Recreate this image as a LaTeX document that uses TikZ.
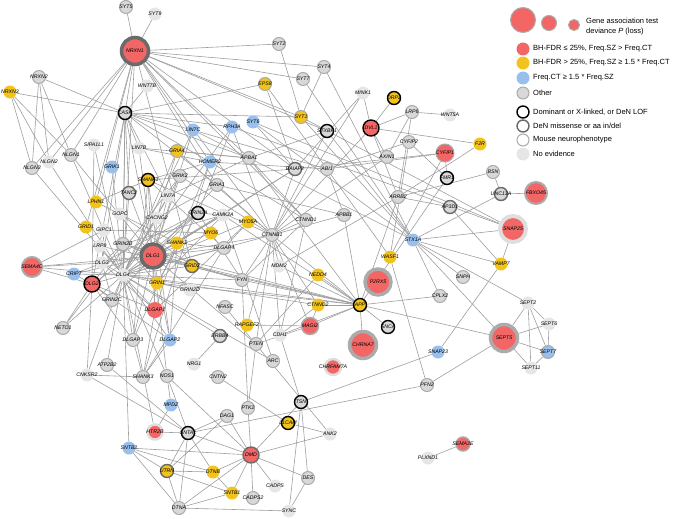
\documentclass[tikz,border=0pt]{standalone}
\usepackage{fontspec}
\setmainfont{Liberation Sans}
\setsansfont{Liberation Sans}
\usetikzlibrary{backgrounds}
\definecolor{szred}{HTML}{F26666}
\definecolor{szyel}{HTML}{F2C31C}
\definecolor{ctblu}{HTML}{99C0EC}
\definecolor{othgry}{HTML}{D8D8D8}
\definecolor{nevgry}{HTML}{E6E6E6}
\definecolor{ringdk}{HTML}{6A6A6A}
\definecolor{ringms}{HTML}{ABABAB}
\definecolor{ringpl}{HTML}{DEDEDE}
\definecolor{ppigry}{HTML}{9E9E9E}
\tikzset{%
  gene/.style  = {circle, inner sep=0pt, minimum size=13pt},
  gred/.style  = {gene, fill=szred},
  gyel/.style  = {gene, fill=szyel},
  gblu/.style  = {gene, fill=ctblu},
  ggry/.style  = {gene, fill=othgry},
  glt/.style   = {gene, fill=nevgry},
  rdom/.style  = {draw=black, line width=1.4pt},
  rden/.style  = {draw=ringdk, line width=1.4pt},
  rthk/.style  = {draw=ringdk, line width=3.5pt},
  rmus/.style  = {draw=ringms, line width=1pt},
  rbig/.style  = {draw=ringms, line width=3.5pt},
  rpale/.style = {draw=ringpl, line width=2.5pt},
  lab/.style   = {font=\sffamily\itshape\fontsize{5.2}{5.2}\selectfont, inner sep=0pt},
  gn/.style    = {label={[lab]center:#1}},
  ppi/.style   = {draw=ppigry, line width=0.6pt},
  legtxt/.style = {anchor=west, inner sep=0pt, font=\sffamily\fontsize{7.5}{10}\selectfont},
}
\begin{document}
\begin{tikzpicture}[x=1pt, y=-1pt]
  \useasboundingbox (0,0) rectangle (685,519);

  % genes, top
  \node[ggry, rmus, gn=SYT5]   (SYT5)   at (126,7)   {};
  \node[glt, gn=SYT9]          (SYT9)   at (155,14)  {};
  \node[gred, rthk, minimum size=27pt, gn=NRXN1] (NRXN1) at (135,51) {};
  \node[ggry, rmus, gn=SYT2]   (SYT2)   at (279,44)  {};
  \node[ggry, rmus, gn=SYT4]   (SYT4)   at (324,67)  {};
  \node[ggry, rmus, gn=SYT7]   (SYT7)   at (303,79)  {};
  \node[gyel, rmus, gn=EPS8]   (EPS8)   at (265,84)  {};
  \node[glt, gn=WNT7B]         (WNT7B)  at (147,86)  {};
  \node[ggry, rmus, gn=NRXN2]  (NRXN2)  at (39,77)   {};
  \node[gyel, gn=NRXN3]        (NRXN3)  at (10,92)   {};
  \node[ggry, rdom, gn=CASK]   (CASK)   at (125,113) {};
  \node[glt, gn=MINK1]         (MINK1)  at (363,93)  {};
  \node[gyel, rdom, gn=DRP2]   (DRP2)   at (394,98)  {};
  \node[ggry, rmus, gn=LRP6]   (LRP6)   at (412,112) {};
  \node[glt, gn=WNT5A]         (WNT5A)  at (450,115) {};
  \node[gyel, rmus, gn=SYT1]   (SYT1)   at (301,117) {};
  \node[gblu, gn=SYT6]         (SYT6)   at (253,122) {};
  \node[gblu, gn=RPH3A]        (RPH3A)  at (232,127) {};
  \node[gblu, gn=LIN7C]        (LIN7C)  at (193,130) {};
  \node[ggry, rdom, gn=STXBP1] (STXBP1) at (327,131) {};
  \node[gred, rdom, minimum size=16pt, gn=DVL1] (DVL1) at (371,128) {};
  \node[ggry, rmus, gn=CYFIP2] (CYFIP2) at (409,142) {};
  \node[gred, rmus, minimum size=18pt, gn=CYFIP1] (CYFIP1) at (445,153) {};
  \node[gyel, gn=F2R]          (F2R)    at (480,144) {};
  \node[ggry, rmus, gn=BSN]    (BSN)    at (493,172) {};

  % genes, upper left and middle
  \node[glt, gn=SIPA1L1]       (SIPA1L1) at (94,145) {};
  \node[glt, gn=LIN7B]         (LIN7B)  at (139,148) {};
  \node[gyel, rmus, gn=GRIA4]  (GRIA4)  at (177,151) {};
  \node[ggry, rmus, gn=NLGN1]  (NLGN1)  at (71,155)  {};
  \node[glt, gn=NLGN2]         (NLGN2)  at (49,162)  {};
  \node[ggry, rmus, gn=NLGN3]  (NLGN3)  at (32,168)  {};
  \node[gblu, gn=GRIK1]        (GRIK1)  at (112,167) {};
  \node[gblu, gn=HOMER2]       (HOMER2) at (210,162) {};
  \node[ggry, rmus, gn=APBA1]  (APBA1)  at (249,158) {};
  \node[ggry, rden, gn=BAIAP2] (BAIAP2) at (295,169) {};
  \node[ggry, rmus, gn=ABI1]   (ABI1)   at (327,169) {};
  \node[ggry, rmus, gn=AXIN1]  (AXIN1)  at (387,157) {};
  \node[gyel, rdom, gn=SHANK1] (SHANK1) at (148,180) {};
  \node[ggry, rmus, gn=GRIK2]  (GRIK2)  at (180,176) {};
  \node[ggry, rmus, gn=GRIA1]  (GRIA1)  at (217,185) {};
  \node[ggry, rden, gn=TANC2]  (TANC2)  at (129,193) {};
  \node[glt, gn=LIN7A]         (LIN7A)  at (168,196) {};
  \node[gyel, gn=LPHN1]        (LPHN1)  at (96,202)  {};
  \node[glt, gn=GOPC]          (GOPC)   at (120,214) {};
  \node[glt, gn=CACNG2]        (CACNG2) at (157,218) {};
  \node[ggry, rdom, gn=GRIN2A] (GRIN2A) at (198,213) {};
  \node[glt, gn=CAMK2A]        (CAMK2A) at (223,215) {};
  \node[gyel, gn=GRID1]        (GRID1)  at (86,227)  {};
  \node[glt, gn=GIPC1]         (GIPC1)  at (104,230) {};
  \node[gyel, gn=MYO6]         (MYO6)   at (211,233) {};
  \node[gyel, gn=MYO5A]        (MYO5A)  at (248,222) {};
  \node[ggry, rmus, gn=CTNND1] (CTNND1) at (306,220) {};
  \node[ggry, rmus, gn=APBB1]  (APBB1)  at (344,215) {};
  \node[ggry, rmus, gn=ARRB2]  (ARRB2)  at (398,197) {};
  \node[ggry, rdom, gn=FMR1]   (FMR1)   at (447,178) {};
  \node[ggry, rden, gn=AP3D1]  (AP3D1)  at (450,207) {};
  \node[ggry, rden, gn=UNC13A] (UNC13A) at (501,194) {};
  \node[gred, rmus, minimum size=22pt, line width=2pt, gn=FBXO45] (FBXO45) at (536,193) {};
  \node[gred, rpale, minimum size=26pt, line width=4pt, gn=SNAP25] (SNAP25) at (513,229) {};

  % genes, centre
  \node[glt, gn=LRP8]          (LRP8)   at (100,246) {};
  \node[ggry, rmus, gn=GRIN2B] (GRIN2B) at (123,244) {};
  \node[gyel, gn=SHANK2]       (SHANK2) at (177,243) {};
  \node[ggry, rmus, gn=DLGAP4] (DLGAP4) at (224,248) {};
  \node[ggry, rmus, gn=CTNNB1] (CTNNB1) at (272,235) {};
  \node[gblu, gn=STX1A]        (STX1A)  at (413,240) {};
  \node[gred, rthk, minimum size=24pt, gn=DLG1] (DLG1) at (153,256) {};
  \node[gred, rmus, minimum size=20pt, line width=2pt, gn=SEMA4C] (SEMA4C) at (32,267) {};
  \node[glt, gn=DLG3]          (DLG3)   at (102,263) {};
  \node[gyel, rden, gn=GRID2]  (GRID2)  at (192,266) {};
  \node[gblu, gn=CRIPT]        (CRIPT)  at (74,274)  {};
  \node[glt, gn=DLG4]          (DLG4)   at (123,275) {};
  \node[glt, gn=MDM2]          (MDM2)   at (279,266) {};
  \node[gyel, gn=WASF1]        (WASF1)  at (390,257) {};
  \node[gyel, gn=VAMP7]        (VAMP7)  at (501,264) {};
  \node[gred, rdom, minimum size=16pt, gn=DLG2] (DLG2) at (92,284) {};
  \node[gyel, gn=GRIN1]        (GRIN1)  at (157,283) {};
  \node[ggry, rmus, gn=FYN]    (FYN)    at (242,280) {};
  \node[gyel, gn=NEDD4]        (NEDD4)  at (318,275) {};
  \node[gred, rbig, minimum size=26pt, gn=P2RX5] (P2RX5) at (378,282) {};
  \node[ggry, rmus, gn=SNPH]   (SNPH)   at (463,277) {};
  \node[glt, gn=GRIN2D]        (GRIN2D) at (190,290) {};
  \node[ggry, rmus, gn=GRIN2C] (GRIN2C) at (112,300) {};
  \node[ggry, rmus, gn=CPLX2]  (CPLX2)  at (440,296) {};
  \node[glt, gn=SEPT2]         (SEPT2)  at (528,303) {};
  \node[gred, minimum size=16pt, gn=DLGAP1] (DLGAP1) at (155,310) {};
  \node[ggry, rmus, gn=NFASC]  (NFASC)  at (225,307) {};
  \node[gyel, rdom, gn=APP]    (APP)    at (360,305) {};
  \node[gyel, gn=CTNND2]       (CTNND2) at (318,305) {};
  \node[glt, gn=SEPT6]         (SEPT6)  at (549,324) {};
  \node[ggry, rmus, gn=NETO1]  (NETO1)  at (63,328)  {};
  \node[gyel, gn=RAPGEF2]      (RAPGEF2) at (247,325) {};
  \node[gred, rmus, minimum size=17pt, line width=1.5pt, gn=MAGI2] (MAGI2) at (310,326) {};
  \node[ggry, rdom, gn=SNCA]   (SNCA)   at (388,327) {};
  \node[ggry, rmus, gn=DLGAP3] (DLGAP3) at (133,340) {};
  \node[gblu, gn=DLGAP2]       (DLGAP2) at (170,340) {};
  \node[ggry, rden, gn=ERBB4]  (ERBB4)  at (220,336) {};
  \node[glt, gn=CDH1]          (CDH1)   at (280,335) {};
  \node[gred, rbig, minimum size=27pt, gn=SEPT5] (SEPT5) at (504,338) {};
  \node[ggry, rmus, gn=PTEN]   (PTEN)   at (256,344) {};
  \node[gred, rbig, minimum size=27pt, gn=CHRNA7] (CHRNA7) at (363,345) {};
  \node[gblu, rmus, gn=SEPT7]  (SEPT7)  at (548,352) {};
  \node[gblu, gn=SNAP23]       (SNAP23) at (438,352) {};

  % genes, bottom
  \node[ggry, rmus, gn=ARC]    (ARC)    at (273,361) {};
  \node[gred, rpale, minimum size=16pt, gn=CHRFAM7A] (CHRFAM7A) at (333,367) {};
  \node[glt, gn=SEPT11]        (SEPT11) at (531,368) {};
  \node[ggry, rmus, gn=ATP2B2] (ATP2B2) at (107,365) {};
  \node[glt, gn=NRG1]          (NRG1)   at (194,364) {};
  \node[glt, gn=CNKSR2]        (CNKSR2) at (87,375)  {};
  \node[ggry, rmus, gn=SHANK3] (SHANK3) at (143,377) {};
  \node[ggry, rmus, gn=NOS1]   (NOS1)   at (167,376) {};
  \node[ggry, rmus, gn=CNTN2]  (CNTN2)  at (218,377) {};
  \node[ggry, rmus, gn=PFN2]   (PFN2)   at (427,385) {};
  \node[ggry, rdom, gn=TSN]    (TSN)    at (301,402) {};
  \node[gblu, gn=MPDZ]         (MPDZ)   at (171,405) {};
  \node[ggry, rmus, gn=PTK2]   (PTK2)   at (248,408) {};
  \node[ggry, rmus, gn=DAG1]   (DAG1)   at (227,416) {};
  \node[gyel, rdom, gn=L1CAM]  (L1CAM)  at (288,423) {};
  \node[glt, gn=ANK2]          (ANK2)   at (330,434) {};
  \node[gred, rpale, minimum size=15pt, gn=HTR2B] (HTR2B) at (155,432) {};
  \node[ggry, rdom, gn=SNTA1]  (SNTA1)  at (188,433) {};
  \node[gred, rmus, minimum size=14pt, line width=1.5pt, gn=SEMA3E] (SEMA3E) at (463,444) {};
  \node[gblu, gn=SNTB2]        (SNTB2)  at (129,448) {};
  \node[gred, rden, minimum size=16pt, gn=DMD] (DMD) at (251,455) {};
  \node[glt, gn=PLXND1]        (PLXND1) at (428,458) {};
  \node[gyel, rden, gn=UTRN]   (UTRN)   at (167,471) {};
  \node[gyel, gn=DTNB]         (DTNB)   at (213,472) {};
  \node[ggry, rmus, gn=DES]    (DES)    at (308,478) {};
  \node[glt, gn=CADPS]         (CADPS)  at (275,486) {};
  \node[gyel, gn=SNTB1]        (SNTB1)  at (232,493) {};
  \node[ggry, rmus, gn=CADPS2] (CADPS2) at (253,498) {};
  \node[ggry, rmus, gn=DTNA]   (DTNA)   at (179,508) {};
  \node[glt, gn=SYNC]          (SYNC)   at (289,511) {};

  % interactions
  \begin{scope}[on background layer]
  \foreach \a/\b in {
    NRXN1/SYT5, NRXN1/SYT9, NRXN1/SYT2, NRXN1/SYT4, NRXN1/SYT7, NRXN1/SYT1,
    NRXN1/CASK, NRXN1/NLGN1, NRXN1/NLGN2, NRXN1/NLGN3, NRXN1/APBA1,
    NRXN1/LPHN1, NRXN1/GRID1, NRXN1/GRID2, NRXN1/DLG4, NRXN1/STXBP1,
    NRXN1/CTNNB1, NRXN1/HOMER2, NRXN1/GRIA1, NRXN1/BAIAP2, NRXN1/CTNND1,
    NRXN2/NLGN1, NRXN2/NLGN2, NRXN2/NLGN3, NRXN2/CASK,
    NRXN3/NLGN1, NRXN3/NLGN2, NRXN3/NLGN3, NRXN3/CASK,
    WNT7B/CASK, CASK/LIN7A, CASK/LIN7B, CASK/LIN7C, CASK/DLG1, CASK/DLG2,
    CASK/DLG3, CASK/DLG4, CASK/EPS8, CASK/RPH3A, CASK/GRIN2B, CASK/TANC2,
    CASK/APBA1, CASK/HOMER2, CASK/SYT1, CASK/GRIA1,
    LIN7A/APBA1, LIN7B/APBA1, LIN7C/APBA1, LIN7A/DLG1, LIN7A/DLG4,
    LIN7C/DLG1, LIN7C/DLG4, LIN7B/DLG1, LIN7C/ABI1, LIN7B/HOMER2,
    SIPA1L1/DLG4, SIPA1L1/DLG2, NLGN1/DLG4, NLGN2/DLG4, NLGN3/DLG4,
    NLGN1/DLG1, GRIK1/DLG4, GRIA4/CACNG2, GRIA4/DLG4, GRIA4/APBA1,
    GRIA4/CTNNB1, HOMER2/CTNND1, HOMER2/ABI1,
    HOMER2/SHANK1, HOMER2/SHANK2, HOMER2/SHANK3, RPH3A/DLG4, RPH3A/GRIN2A,
    RPH3A/SNAP25, RPH3A/CTNNB1, SYT6/SNAP25,
    SYT6/BAIAP2, SYT6/STX1A, EPS8/ABI1, EPS8/BAIAP2,
    SYT2/SYT1, SYT4/SYT1, SYT4/STX1A, SYT7/STX1A, SYT1/STX1A, SYT1/SNAP25,
    STXBP1/STX1A, STXBP1/APBA1, STXBP1/CTNNB1, APBA1/CTNND1, APBA1/STX1A,
    MINK1/DVL1, MINK1/BAIAP2, MINK1/CTNNB1, DRP2/DVL1,
    LRP6/WNT5A, LRP6/DVL1, LRP6/AXIN1, LRP6/ARRB2,
    DVL1/AXIN1, DVL1/CTNNB1, DVL1/ARRB2, DVL1/F2R,
    CYFIP2/FMR1, CYFIP2/ABI1, CYFIP2/WASF1,
    CYFIP1/FMR1, CYFIP1/ABI1, CYFIP1/BAIAP2, CYFIP1/WASF1,
    AXIN1/CTNNB1, BAIAP2/SHANK1, BAIAP2/SHANK2, BAIAP2/DLG4, ABI1/WASF1,
    BAIAP2/CTNNB1, ABI1/APBB1, GRIK2/CTNNB1, GRIA1/APBB1, SHANK1/CTNNB1,
    ARRB2/MDM2, ARRB2/F2R, ARRB2/AP3D1, ARRB2/BSN, ARRB2/APP, FMR1/APP,
    AP3D1/VAMP7, UNC13A/BSN, UNC13A/FBXO45, UNC13A/STX1A,
    SNAP25/STX1A, SNAP25/VAMP7, STX1A/VAMP7, STX1A/CPLX2, STX1A/SNPH,
    STX1A/SEPT2, STX1A/SEPT5, VAMP7/SNAP23, WASF1/PFN2,
    SEPT5/SEPT2, SEPT5/SEPT6, SEPT5/SEPT7, SEPT5/SEPT11, SEPT5/PFN2,
    SEPT5/APP, SEPT2/SEPT6, SEPT2/SEPT7, SEPT2/SEPT11, SEPT6/SEPT7,
    SEPT7/SEPT11, SEMA3E/PLXND1, PFN2/SNTA1, SNAP23/TSN,
    APP/NEDD4, APP/FYN, APP/CTNNB1, APP/MDM2, APP/CTNND2, APP/MAGI2,
    APP/APBB1, APP/APBA1, APP/SNCA, APP/CHRNA7, APP/CPLX2, APP/LRP8,
    APP/GRIN1, APP/CDH1, APP/DLG4, APP/CAMK2A, APP/DLG1, APP/GRIN2B,
    CTNNB1/CTNND1, CTNNB1/CDH1, CTNNB1/MDM2, CTNNB1/FYN, CTNNB1/MAGI2,
    CTNNB1/CTNND2, CTNNB1/DLG1, CTNNB1/PTEN, CTNNB1/APBB1, CTNNB1/GRIA1,
    CTNND1/CDH1, CTNND1/FYN, CTNND2/CDH1, CTNND2/MAGI2, CTNND2/DLG4,
    MAGI2/PTEN, MAGI2/RAPGEF2, NEDD4/PTEN,
    FYN/GRIN2A, FYN/GRIN2B, FYN/DLG4, FYN/PTK2, PTEN/PTK2, PTEN/DLG1,
    RAPGEF2/CTNNB1, ARC/DLG4, ARC/CAMK2A, ERBB4/NRG1, ERBB4/DLG4,
    NFASC/ANK2, CNTN2/L1CAM, L1CAM/ANK2, ANK2/DMD,
    TSN/DMD, TSN/DES, TSN/SYNC, TSN/CDH1,
    DMD/SNTA1, DMD/SNTB1, DMD/SNTB2, DMD/DTNA, DMD/DTNB, DMD/DAG1,
    DMD/DES, DMD/CADPS, DMD/CADPS2, DMD/PTK2, DMD/NOS1,
    DAG1/UTRN, DAG1/SNTA1,
    SNTA1/UTRN, SNTA1/DTNA, SNTA1/DTNB, SNTA1/NOS1, SNTA1/HTR2B,
    SNTA1/CNKSR2, SNTA1/ATP2B2, MPDZ/HTR2B, MPDZ/NOS1, HTR2B/DLG4,
    SNTB2/UTRN, SNTB2/DTNA, SNTB2/DTNB, SNTB2/DLG4,
    UTRN/DTNA, UTRN/DTNB, UTRN/SNTB1, DTNB/SNTB1, SNTB1/DTNA, DTNA/SYNC,
    DES/SYNC,
    SEMA4C/DLG1, SEMA4C/DLG3, SEMA4C/DLG4, SEMA4C/DLG2, SEMA4C/GIPC1,
    CRIPT/DLG1, CRIPT/DLG2, CRIPT/DLG3, CRIPT/DLG4,
    DLG1/GRIN2A, DLG1/GRIN2B, DLG1/GRIN2C, DLG1/GRIA1, DLG1/MYO6,
    DLG1/GRIK2, DLG1/TANC2, DLG1/CACNG2, DLG1/CAMK2A,
    DLG1/DLG4, DLG1/DLG3, DLG2/DLG4, DLG3/DLG4, DLG4/CTNNB1,
    DLG4/MYO5A, DLG4/CAMK2A, DLG1/FYN, DLG2/GRIN2C, DLG3/GRIN2C,
    DLG1/NOS1, DLG2/CNKSR2, SHANK2/GRID2,
    DLG4/GRIN2A, DLG4/GRIN2B, DLG4/GRIN2C, DLG4/GRIN2D, DLG4/CACNG2,
    DLG4/NOS1, DLG4/NETO1, DLG4/CNKSR2, DLG4/ATP2B2, DLG4/LRP8,
    DLG4/GRIK2, DLG4/TANC2, DLG4/GRID2,
    DLG2/GRIN2A, DLG2/GRIN2B, DLG2/NETO1, DLG3/GRIN2A, DLG3/GRIN2B,
    DLG3/GIPC1,
    DLG1/DLGAP1, DLG1/DLGAP2, DLG1/DLGAP3, DLG1/DLGAP4,
    DLG4/DLGAP1, DLG4/DLGAP2, DLG4/DLGAP3, DLG4/DLGAP4,
    DLG2/DLGAP1, DLG2/DLGAP2, DLG2/DLGAP3, DLG3/DLGAP1,
    SHANK1/DLGAP1, SHANK1/DLGAP2, SHANK1/DLGAP3, SHANK1/DLGAP4,
    SHANK2/DLGAP1, SHANK2/DLGAP2, SHANK2/DLGAP3, SHANK2/DLGAP4,
    SHANK3/DLGAP1, SHANK3/DLGAP2, SHANK3/DLGAP3, SHANK3/DLGAP4,
    LPHN1/SHANK1, LPHN1/SHANK2, MYO5A/DLGAP1, MYO5A/DLGAP4,
    GRIN1/GRIN2A, GRIN1/GRIN2B, GRIN1/GRIN2D, GRIN1/CAMK2A,
    GRIN2A/CAMK2A, GRIN2B/CAMK2A, CACNG2/GRIA1, GRIK2/NETO1,
    GOPC/GRID2, GIPC1/MYO6, CNKSR2/SHANK3}
    \draw[ppi] (\a) -- (\b);
  \end{scope}

  % legend
  \node[gred, rmus, minimum size=25pt] (lgP1) at (523,20) {};
  \node[gred, rmus, minimum size=15pt] (lgP2) at (549,23) {};
  \node[gred, rmus, minimum size=11pt] (lgP3) at (574,25) {};
  \node[legtxt, align=left] (lgPt) at (586,27) {Gene association test\\deviance \textit{P} (loss)};

  \node[gred, minimum size=13pt] (lgC1) at (523,49) {};
  \node[gyel, minimum size=13pt] (lgC2) at (523,63) {};
  \node[gblu, minimum size=13pt] (lgC3) at (523,78) {};
  \node[ggry, rmus, minimum size=12pt] (lgC4) at (523,93) {};
  \node[legtxt] (lgC1t) at (533,49) {BH-FDR ≤ 25\%, Freq.SZ > Freq.CT};
  \node[legtxt] (lgC2t) at (533,63) {BH-FDR > 25\%, Freq.SZ ≥ 1.5 * Freq.CT};
  \node[legtxt] (lgC3t) at (533,78) {Freq.CT ≥ 1.5 * Freq.SZ};
  \node[legtxt] (lgC4t) at (533,93) {Other};

  \node[gene, fill=white, rdom, minimum size=12pt] (lgB1) at (523,112) {};
  \node[gene, fill=white, rden, minimum size=12pt] (lgB2) at (523,126) {};
  \node[gene, fill=white, rmus, minimum size=12pt] (lgB3) at (523,140) {};
  \node[glt, minimum size=13pt]                    (lgB4) at (523,154) {};
  \node[legtxt] (lgB1t) at (533,112) {Dominant or X-linked, or DeN LOF};
  \node[legtxt] (lgB2t) at (533,126) {DeN missense or aa in/del};
  \node[legtxt] (lgB3t) at (533,140) {Mouse neurophenotype};
  \node[legtxt] (lgB4t) at (533,154) {No evidence};
\end{tikzpicture}
\end{document}
